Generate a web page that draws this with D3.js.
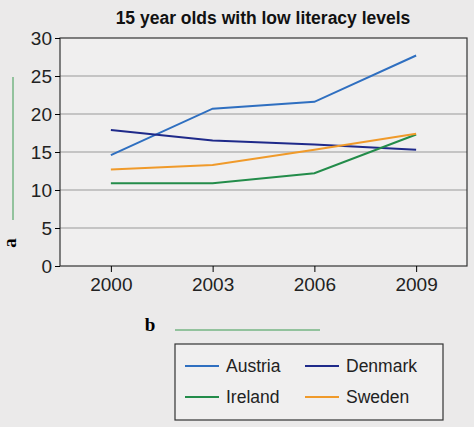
<!DOCTYPE html>
<html><head><meta charset="utf-8">
<script src="https://cdn.jsdelivr.net/npm/d3@7"></script>
<style>body{margin:0;background:#ebeaea;}svg{display:block;font-family:"Liberation Sans",Arial,sans-serif;}</style>
</head><body><svg id="c" width="474" height="427"></svg>
<script>
const years = ["2000","2003","2006","2009"];
const austria = [14.6,20.7,21.6,27.7];
const denmark = [17.9,16.5,16.0,15.3];
const ireland = [10.9,10.9,12.2,17.3];
const sweden = [12.7,13.3,15.3,17.4];
const yTicks = [0,5,10,15,20,25,30];
const series = [
 {name:"Austria",values:austria,color:"#2f6fc0"},
 {name:"Denmark",values:denmark,color:"#1f2a8a"},
 {name:"Ireland",values:ireland,color:"#238c4a"},
 {name:"Sweden",values:sweden,color:"#f09a2a"}];
const svg=d3.select("#c");
const L=60,R=467,T=38,B=266;
const x=d3.scalePoint().domain(years).range([L,R]).padding(0.5);
const y=d3.scaleLinear().domain([0,30]).range([B,T]);
svg.append("rect").attr("x",L).attr("y",T).attr("width",R-L).attr("height",B-T).attr("fill","#f0efef");
svg.append("g").selectAll("line").data(yTicks.slice(1,-1)).join("line")
 .attr("x1",L).attr("x2",R).attr("y1",d=>y(d)).attr("y2",d=>y(d)).attr("stroke","#999").attr("stroke-width",1);
svg.append("rect").attr("x",L).attr("y",T).attr("width",R-L).attr("height",B-T).attr("fill","none").attr("stroke","#333").attr("stroke-width",1.2);
const ya=svg.append("g").attr("transform",`translate(${L},0)`).call(d3.axisLeft(y).tickValues(yTicks).tickSize(5).tickPadding(3));
ya.select(".domain").remove();
ya.selectAll("text").attr("font-size",19).attr("fill","#222");
const xa=svg.append("g").attr("transform",`translate(0,${B})`).call(d3.axisBottom(x).tickSize(6).tickPadding(6));
xa.select(".domain").remove();
xa.selectAll("text").attr("font-size",19).attr("fill","#222");
const line=d3.line().x((d,i)=>x(years[i])).y(d=>y(d));
series.forEach(s=>svg.append("path").attr("d",line(s.values)).attr("fill","none").attr("stroke",s.color).attr("stroke-width",2));
svg.append("text").attr("x",263).attr("y",24).attr("text-anchor","middle").attr("font-weight","bold").attr("font-size",17.5).attr("fill","#111").text("15 year olds with low literacy levels");
svg.append("text").attr("transform","translate(16,243) rotate(-90)").attr("text-anchor","middle").attr("font-family","Liberation Serif,serif").attr("font-weight","bold").attr("font-size",19).text("a");
svg.append("line").attr("x1",13).attr("x2",13).attr("y1",77).attr("y2",220).attr("stroke","#3a9a50");
svg.append("text").attr("x",150).attr("y",331).attr("text-anchor","middle").attr("font-family","Liberation Serif,serif").attr("font-weight","bold").attr("font-size",19).text("b");
svg.append("line").attr("x1",175).attr("x2",320).attr("y1",330).attr("y2",330).attr("stroke","#3a9a50");
svg.append("rect").attr("x",175).attr("y",344).attr("width",268).attr("height",76).attr("fill","#f0efef").attr("stroke","#333").attr("stroke-width",1.2);
const pos=[[185,366],[305,366],[185,397],[305,397]];
series.forEach((s,i)=>{const [px,py]=pos[i];
 svg.append("line").attr("x1",px).attr("x2",px+34).attr("y1",py).attr("y2",py).attr("stroke",s.color).attr("stroke-width",2);
 svg.append("text").attr("x",px+41).attr("y",py+6).attr("font-size",17.5).attr("fill","#222").text(s.name);});
</script></body></html>
